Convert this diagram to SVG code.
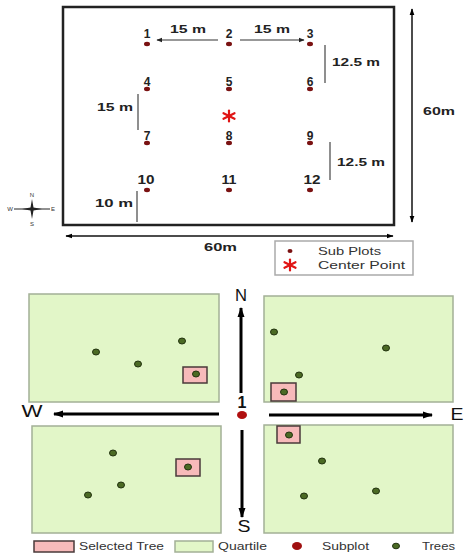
<svg xmlns="http://www.w3.org/2000/svg" width="474" height="560" viewBox="0 0 474 560">
<style>
.lb{font-family:"Liberation Sans",Arial,sans-serif;font-weight:bold;font-size:12px;fill:#222;text-anchor:middle}
.dm{font-family:"Liberation Sans",Arial,sans-serif;font-weight:bold;font-size:11px;fill:#222}
.lg{font-family:"Liberation Sans",Arial,sans-serif;font-size:11px;fill:#333}
.dir{font-family:"Liberation Sans",Arial,sans-serif;font-size:16px;fill:#111;text-anchor:middle}
.cp{font-family:"Liberation Sans",Arial,sans-serif;font-size:6px;fill:#333;text-anchor:middle}
.sp{fill:#7a1212}
.thin{stroke:#333;stroke-width:1.1;fill:none}
.big{stroke:#111;stroke-width:1.5;fill:none}
.axis{stroke:#000;stroke-width:3;fill:none}
.quad{fill:#e2f6c8;stroke:#a3b096;stroke-width:1.5}
.sel{fill:#f7baba;stroke:#4a3a3a;stroke-width:1.5}
.tree{fill:#4b6a24;stroke:#22320f;stroke-width:1}
.star{stroke:#e01414;stroke-width:2.2;stroke-linecap:round}
</style>
<defs>
<marker id="ah" viewBox="0 0 10 10" refX="9" refY="5" markerWidth="6" markerHeight="6" orient="auto-start-reverse" markerUnits="userSpaceOnUse"><path d="M0,1 L10,5 L0,9 Z" fill="#222"/></marker>
<marker id="ahb" viewBox="0 0 10 10" refX="9" refY="5" markerWidth="7" markerHeight="7" orient="auto-start-reverse" markerUnits="userSpaceOnUse"><path d="M0,1.5 L10,5 L0,8.5 Z" fill="#000"/></marker>
<marker id="aha" viewBox="0 0 10 10" refX="9" refY="5" markerWidth="10" markerHeight="10" orient="auto-start-reverse" markerUnits="userSpaceOnUse"><path d="M0,1.5 L10,5 L0,8.5 Z" fill="#000"/></marker>
<g id="starsym"><line class="star" x1="0" y1="-5.5" x2="0" y2="5.5"/><line class="star" x1="-5.5" y1="-2.8" x2="5.5" y2="2.8"/><line class="star" x1="-5.5" y1="2.8" x2="5.5" y2="-2.8"/></g>
</defs>
<rect width="474" height="560" fill="#fff"/>

<!-- Top plot -->
<g id="plot">
<rect x="63" y="7" width="331" height="218" fill="none" stroke="#222" stroke-width="2.5"/>
</g>

<g id="subplots">
<g id="sp1"><ellipse class="sp" cx="147" cy="44" rx="3" ry="2.2"/><text class="lb" x="147" y="38">1</text></g>
<g id="sp2"><ellipse class="sp" cx="229" cy="44" rx="3" ry="2.2"/><text class="lb" x="229" y="38">2</text></g>
<g id="sp3"><ellipse class="sp" cx="310" cy="44" rx="3" ry="2.2"/><text class="lb" x="310" y="38">3</text></g>
<g id="sp4"><ellipse class="sp" cx="147" cy="89" rx="3" ry="2.2"/><text class="lb" x="147" y="86">4</text></g>
<g id="sp5"><ellipse class="sp" cx="229" cy="89" rx="3" ry="2.2"/><text class="lb" x="229" y="86">5</text></g>
<g id="sp6"><ellipse class="sp" cx="310" cy="89" rx="3" ry="2.2"/><text class="lb" x="310" y="86">6</text></g>
<g id="sp7"><ellipse class="sp" cx="147" cy="143" rx="3" ry="2.2"/><text class="lb" x="147" y="140">7</text></g>
<g id="sp8"><ellipse class="sp" cx="229" cy="143" rx="3" ry="2.2"/><text class="lb" x="229" y="140">8</text></g>
<g id="sp9"><ellipse class="sp" cx="310" cy="143" rx="3" ry="2.2"/><text class="lb" x="310" y="140">9</text></g>
<g id="sp10"><ellipse class="sp" cx="147" cy="190" rx="3" ry="2.2"/><text class="lb" x="146" y="184" textLength="17" lengthAdjust="spacingAndGlyphs">10</text></g>
<g id="sp11"><ellipse class="sp" cx="229" cy="190" rx="3" ry="2.2"/><text class="lb" x="229" y="184" textLength="15" lengthAdjust="spacingAndGlyphs">11</text></g>
<g id="sp12"><ellipse class="sp" cx="310" cy="190" rx="3" ry="2.2"/><text class="lb" x="312" y="184" textLength="17" lengthAdjust="spacingAndGlyphs">12</text></g>
</g>

<g id="center"><use href="#starsym" x="229" y="116"/></g>

<g id="dimensions">
<line class="thin" x1="157" y1="40" x2="218" y2="40" marker-start="url(#ah)"/>
<line class="thin" x1="240" y1="40" x2="304" y2="40" marker-end="url(#ah)"/>
<line class="thin" x1="325" y1="45" x2="325" y2="83"/>
<line class="thin" x1="330" y1="142" x2="330" y2="180"/>
<line class="thin" x1="138" y1="94" x2="138" y2="130"/>
<line class="thin" x1="137" y1="191" x2="137" y2="222"/>
<line class="big" x1="412" y1="9" x2="412" y2="222" marker-start="url(#ahb)" marker-end="url(#ahb)"/>
<line class="big" x1="66" y1="236" x2="393" y2="236" marker-start="url(#ahb)" marker-end="url(#ahb)"/>
<text class="dm" x="170" y="33" textLength="36" lengthAdjust="spacingAndGlyphs">15 m</text>
<text class="dm" x="254" y="33" textLength="36" lengthAdjust="spacingAndGlyphs">15 m</text>
<text class="dm" x="332" y="66" textLength="48" lengthAdjust="spacingAndGlyphs">12.5 m</text>
<text class="dm" x="337" y="166" textLength="48" lengthAdjust="spacingAndGlyphs">12.5 m</text>
<text class="dm" x="97" y="111" textLength="36" lengthAdjust="spacingAndGlyphs">15 m</text>
<text class="dm" x="95" y="207" textLength="38" lengthAdjust="spacingAndGlyphs">10 m</text>
<text class="dm" x="423" y="115" textLength="32" lengthAdjust="spacingAndGlyphs">60m</text>
<text class="dm" x="204" y="251" textLength="33" lengthAdjust="spacingAndGlyphs">60m</text>
</g>

<g id="compass">
<polygon points="32,199 33.5,207.5 42,209 33.5,210.5 32,219 30.5,210.5 22,209 30.5,207.5" fill="#222"/>
<line x1="14" y1="209" x2="50" y2="209" stroke="#222" stroke-width="1"/>
<text class="cp" x="32" y="197">N</text>
<text class="cp" x="32" y="226">S</text>
<text class="cp" x="10" y="211">W</text>
<text class="cp" x="53" y="211">E</text>
</g>

<g id="legend-top">
<rect x="275" y="241" width="138" height="34" fill="#fff" stroke="#aaa" stroke-width="1.5"/>
<ellipse class="sp" cx="290" cy="251" rx="2.5" ry="2"/>
<text class="lg" x="318" y="255" textLength="63" lengthAdjust="spacingAndGlyphs">Sub Plots</text>
<use href="#starsym" x="290" y="265"/>
<text class="lg" x="318" y="269" textLength="87" lengthAdjust="spacingAndGlyphs">Center Point</text>
</g>

<!-- Bottom quadrants -->
<g id="quad-nw">
<rect class="quad" x="29" y="294" width="190" height="108"/>
<ellipse class="tree" cx="96" cy="352" rx="3.5" ry="3"/>
<ellipse class="tree" cx="138" cy="364" rx="3.5" ry="3"/>
<ellipse class="tree" cx="182" cy="341" rx="3.5" ry="3"/>
<rect class="sel" x="183" y="367" width="24" height="16"/>
<ellipse class="tree" cx="196" cy="374" rx="3.5" ry="3"/>
</g>
<g id="quad-ne">
<rect class="quad" x="264" y="296" width="189" height="106"/>
<ellipse class="tree" cx="274" cy="332" rx="3.5" ry="3"/>
<ellipse class="tree" cx="386" cy="348" rx="3.5" ry="3"/>
<ellipse class="tree" cx="299" cy="375" rx="3.5" ry="3"/>
<rect class="sel" x="271" y="383" width="25" height="18"/>
<ellipse class="tree" cx="284" cy="392" rx="3.5" ry="3"/>
</g>
<g id="quad-sw">
<rect class="quad" x="32" y="426" width="189" height="107"/>
<ellipse class="tree" cx="113" cy="453" rx="3.5" ry="3"/>
<ellipse class="tree" cx="121" cy="485" rx="3.5" ry="3"/>
<ellipse class="tree" cx="88" cy="495" rx="3.5" ry="3"/>
<rect class="sel" x="176" y="459" width="24" height="17"/>
<ellipse class="tree" cx="188" cy="467" rx="3.5" ry="3"/>
</g>
<g id="quad-se">
<rect class="quad" x="264" y="425" width="189" height="108"/>
<rect class="sel" x="277" y="426" width="23" height="17"/>
<ellipse class="tree" cx="289" cy="435" rx="3.5" ry="3"/>
<ellipse class="tree" cx="322" cy="461" rx="3.5" ry="3"/>
<ellipse class="tree" cx="376" cy="491" rx="3.5" ry="3"/>
<ellipse class="tree" cx="304" cy="496" rx="3.5" ry="3"/>
</g>

<g id="axes">
<line class="axis" x1="219" y1="414" x2="54" y2="414" marker-end="url(#aha)"/>
<line class="axis" x1="269" y1="415" x2="432" y2="415" marker-end="url(#aha)"/>
<line class="axis" x1="241" y1="393" x2="241" y2="308" marker-end="url(#aha)"/>
<line class="axis" x1="242" y1="430" x2="242" y2="517" marker-end="url(#aha)"/>
</g>
<g id="subplot1">
<ellipse cx="242" cy="415" rx="5" ry="4" fill="#b01010"/>
<text class="dir" x="242" y="408" font-size="14" font-weight="bold">1</text>
</g>
<g id="directions">
<text class="dir" x="241" y="301" textLength="12" lengthAdjust="spacingAndGlyphs">N</text>
<text class="dir" x="244" y="532" textLength="13" lengthAdjust="spacingAndGlyphs">S</text>
<text class="dir" x="32" y="417" textLength="21" lengthAdjust="spacingAndGlyphs">W</text>
<text class="dir" x="457" y="420" textLength="13" lengthAdjust="spacingAndGlyphs">E</text>
</g>

<g id="legend-bottom">
<rect class="sel" x="34" y="541" width="40" height="11"/>
<text class="lg" x="79" y="550" textLength="85" lengthAdjust="spacingAndGlyphs">Selected Tree</text>
<rect class="quad" x="175" y="541" width="38" height="11"/>
<text class="lg" x="218" y="550" textLength="49" lengthAdjust="spacingAndGlyphs">Quartile</text>
<ellipse cx="297" cy="546" rx="5" ry="4" fill="#a01010"/>
<text class="lg" x="322" y="550" textLength="47" lengthAdjust="spacingAndGlyphs">Subplot</text>
<ellipse class="tree" cx="396" cy="546" rx="3.5" ry="2.8"/>
<text class="lg" x="422" y="550" textLength="33" lengthAdjust="spacingAndGlyphs">Trees</text>
</g>
</svg>
